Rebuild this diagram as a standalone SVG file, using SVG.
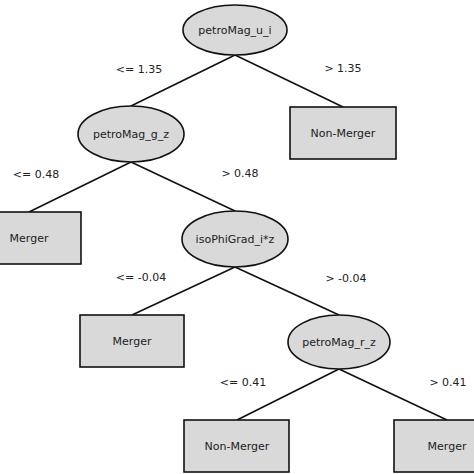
<svg xmlns="http://www.w3.org/2000/svg" width="474" height="474" viewBox="0 0 474 474">
<style>
.n{fill:#d9d9d9;stroke:#111;stroke-width:1.6}
.t{font-family:"DejaVu Sans",sans-serif;font-size:11px;fill:#222;text-anchor:middle}
.e{stroke:#111;stroke-width:1.6;fill:none}
</style>
<rect width="474" height="474" fill="#fff"/>
<g id="edges">
<line class="e" x1="235" y1="55" x2="131" y2="106"/>
<line class="e" x1="235" y1="55" x2="343" y2="107"/>
<line class="e" x1="131" y1="162" x2="29" y2="212"/>
<line class="e" x1="131" y1="162" x2="235" y2="211"/>
<line class="e" x1="235" y1="267" x2="132" y2="315"/>
<line class="e" x1="235" y1="267" x2="339" y2="315"/>
<line class="e" x1="339" y1="369" x2="237" y2="420"/>
<line class="e" x1="339" y1="369" x2="447" y2="420"/>
<text class="t" x="139" y="73">&lt;= 1.35</text>
<text class="t" x="343" y="72">&gt; 1.35</text>
<text class="t" x="36" y="178">&lt;= 0.48</text>
<text class="t" x="240" y="177">&gt; 0.48</text>
<text class="t" x="141" y="281">&lt;= -0.04</text>
<text class="t" x="346" y="282">&gt; -0.04</text>
<text class="t" x="243" y="386">&lt;= 0.41</text>
<text class="t" x="448" y="386">&gt; 0.41</text>
</g>
<g id="root"><ellipse class="n" cx="235" cy="30" rx="52" ry="25"/><text class="t" x="235" y="34">petroMag_u_i</text></g>
<g id="nm1"><rect class="n" x="290" y="107" width="106" height="52"/><text class="t" x="343" y="137">Non-Merger</text></g>
<g id="gz"><ellipse class="n" cx="131" cy="134" rx="53" ry="28"/><text class="t" x="131" y="138">petroMag_g_z</text></g>
<g id="m1"><rect class="n" x="-24" y="212" width="105" height="52"/><text class="t" x="29" y="242">Merger</text></g>
<g id="iso"><ellipse class="n" cx="235" cy="239" rx="53" ry="28"/><text class="t" x="235" y="243">isoPhiGrad_i*z</text></g>
<g id="m2"><rect class="n" x="80" y="315" width="104" height="52"/><text class="t" x="132" y="345">Merger</text></g>
<g id="rz"><ellipse class="n" cx="339" cy="342" rx="51" ry="27"/><text class="t" x="339" y="346">petroMag_r_z</text></g>
<g id="nm2"><rect class="n" x="184" y="420" width="105" height="52"/><text class="t" x="237" y="450">Non-Merger</text></g>
<g id="m3"><rect class="n" x="394" y="420" width="106" height="52"/><text class="t" x="447" y="450">Merger</text></g>
</svg>
